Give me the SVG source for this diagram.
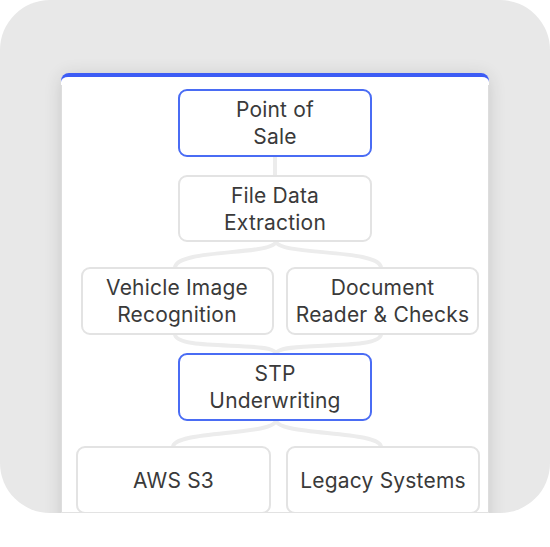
<svg xmlns="http://www.w3.org/2000/svg" width="550" height="547" viewBox="0 0 550 547">
  <defs>
    <clipPath id="outer">
      <rect x="0" y="0" width="550" height="513" rx="50" ry="50"/>
    </clipPath>
    <filter id="shadow" x="-20%" y="-20%" width="140%" height="140%">
      <feGaussianBlur in="SourceAlpha" stdDeviation="9"/>
      <feOffset dx="0" dy="2" result="b"/>
      <feComponentTransfer><feFuncA type="linear" slope="0.14"/></feComponentTransfer>
      <feMerge><feMergeNode/><feMergeNode in="SourceGraphic"/></feMerge>
    </filter>
    <style>
      .node { fill: #ffffff; stroke: #e3e3e3; stroke-width: 2; }
      .node.hl { stroke: #4a6cf4; }
      .edge { fill: none; stroke: #ececec; stroke-width: 4; stroke-linecap: round; }
      .label { font-family: Inter, "Noto Sans", "Liberation Sans", sans-serif; font-size: 21px; font-weight: 400; fill: #3a3a3a; text-anchor: middle; letter-spacing: 0.2px; }
    </style>
  </defs>
  <rect x="0" y="0" width="550" height="547" fill="#ffffff"/>
  <g clip-path="url(#outer)">
    <rect x="0" y="0" width="550" height="513" fill="#e8e8e8"/>
    <g id="card">
      <rect x="61" y="73" width="428" height="470" rx="8" ry="8" fill="#3d5cf5" filter="url(#shadow)"/>
      <rect x="61" y="77" width="428" height="470" rx="7" ry="5" fill="#ffffff"/>
      <line x1="61.5" y1="85" x2="61.5" y2="513" stroke="#dddddd" stroke-width="1"/>
      <line x1="488.5" y1="85" x2="488.5" y2="513" stroke="#dddddd" stroke-width="1"/>
      <line x1="61" y1="512.5" x2="489" y2="512.5" stroke="#e2e2e2" stroke-width="1"/>
    </g>
    <g id="connectors">
      <path class="edge" d="M275 156 L275 176"/>
      <path class="edge" d="M276 241 C276 256, 175 248, 175 268"/>
      <path class="edge" d="M276 241 C276 256, 381 248, 381 268"/>
      <path class="edge" d="M175 334 C175 352, 276 340, 276 354"/>
      <path class="edge" d="M381 334 C381 352, 276 340, 276 354"/>
      <path class="edge" d="M276 420 C276 436, 173 430, 173 447"/>
      <path class="edge" d="M276 420 C276 436, 381 430, 381 447"/>
    </g>
    <g id="node-pos">
      <rect class="node hl" x="179" y="90" width="192" height="66" rx="8"/>
      <text class="label" x="275" y="117">Point of</text>
      <text class="label" x="275" y="144">Sale</text>
    </g>
    <g id="node-fde">
      <rect class="node" x="179" y="176" width="192" height="65" rx="8"/>
      <text class="label" x="275" y="202.5">File Data</text>
      <text class="label" x="275" y="229.5">Extraction</text>
    </g>
    <g id="node-vir">
      <rect class="node" x="82" y="268" width="191" height="66" rx="8"/>
      <text class="label" x="177" y="295">Vehicle Image</text>
      <text class="label" x="177" y="322">Recognition</text>
    </g>
    <g id="node-drc">
      <rect class="node" x="287" y="268" width="191" height="66" rx="8"/>
      <text class="label" x="382.5" y="295">Document</text>
      <text class="label" x="382.5" y="322">Reader &amp; Checks</text>
    </g>
    <g id="node-stp">
      <rect class="node hl" x="179" y="354" width="192" height="66" rx="8"/>
      <text class="label" x="275" y="381">STP</text>
      <text class="label" x="275" y="408">Underwriting</text>
    </g>
    <g id="node-aws">
      <rect class="node" x="77" y="447" width="193" height="66" rx="8"/>
      <text class="label" x="173.5" y="488">AWS S3</text>
    </g>
    <g id="node-legacy">
      <rect class="node" x="287" y="447" width="192" height="66" rx="8"/>
      <text class="label" x="383" y="488">Legacy Systems</text>
    </g>
  </g>
</svg>
